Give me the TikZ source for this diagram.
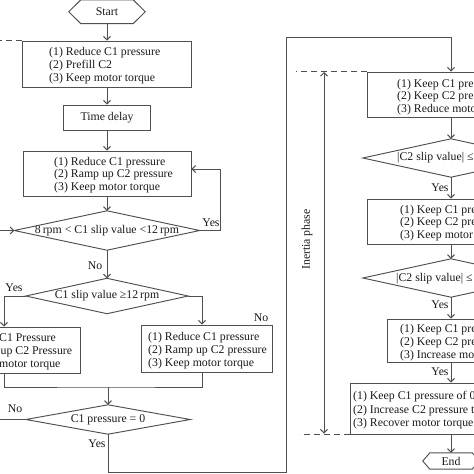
\documentclass[tikz,border=0pt]{standalone}
\usepackage{fontspec}
\setmainfont{Liberation Serif}
\usetikzlibrary{arrows.meta}
\definecolor{lc}{HTML}{505050}
\definecolor{tc}{HTML}{1A1A1A}
\newcommand{\fsz}{\fontsize{11.8}{12.8}\selectfont}
\newcommand{\fszb}{\fontsize{11.8}{13.5}\selectfont}
\tikzset{
  box/.style={draw=lc, line width=0.95pt, inner sep=0pt},
  hid/.style={inner sep=0pt, font=\fsz, text=tc},
  txt/.style={anchor=west, align=left, inner sep=0pt, font=\fsz, text=tc},
  lbl/.style={inner sep=0pt, font=\fsz, text=tc},
  ln/.style={draw=lc, line width=0.95pt},
  arr/.style={ln, -{Straight Barb[length=3.5pt,width=7pt]}},
  dsh/.style={draw=lc, line width=0.95pt, dash pattern=on 6pt off 4pt},
}
\begin{document}
\begin{tikzpicture}[x=1pt,y=-1pt]
\useasboundingbox (0,0) rectangle (474,474);
\clip (0,0) rectangle (474,474);

% ---------- left column ----------
\node[hid, minimum width=52pt, minimum height=23.5pt] (start) at (107,11.75) {Start};
\draw[ln] (start.north west) -- (start.north east) -- ([xshift=12pt]start.east) -- (start.south east) -- (start.south west) -- ([xshift=-12pt]start.west) -- cycle;

\node[box, minimum width=169pt, minimum height=46pt] (b1) at (107,64) {};
\node[txt] (b1t) at (49,65.5) {(1) Reduce C1 pressure\\(2) Prefill C2\\(3) Keep motor torque};

\node[box, minimum width=87pt, minimum height=25pt, font=\fsz, text=tc] (td) at (107,117.5) {Time delay};

\node[box, minimum width=168pt, minimum height=45pt] (b2) at (107,173.5) {};
\node[txt] (b2t) at (54,175) {(1) Reduce C1 pressure\\(2) Ramp up C2 pressure\\(3) Keep motor torque};

\node[hid, minimum width=185pt, minimum height=39pt] (d1) at (107,230.5) {8\,rpm < C1 slip value <12\,rpm};
\draw[ln] (d1.north) -- (d1.east) -- (d1.south) -- (d1.west) -- cycle;

\node[hid, minimum width=162pt, minimum height=35pt] (d2) at (107,296) {C1 slip value ≥12\,rpm};
\draw[ln] (d2.north) -- (d2.east) -- (d2.south) -- (d2.west) -- cycle;

\node[box, minimum width=152pt, minimum height=46pt] (bL) at (4,350) {};
\node[txt] (bLt) at (-1,352) {C1 Pressure\\\hspace*{1.5pt}up C2 Pressure\\motor torque};

\node[box, minimum width=131pt, minimum height=47pt] (bR) at (206.5,348.5) {};
\node[txt] (bRt) at (148,350.5) {(1) Reduce C1 pressure\\(2) Ramp up C2 pressure\\(3) Keep motor torque};

\coordinate (m) at (108,387);
\node[hid, minimum width=164pt, minimum height=29pt] (d3) at (108,419.5) {C1 pressure = 0};
\draw[ln] (d3.north) -- (d3.east) -- (d3.south) -- (d3.west) -- cycle;

% ---------- right column ----------
\node[box, minimum width=168pt, minimum height=45pt] (r1) at (451,94.5) {};
\node[txt] (r1t) at (397,97) {(1) Keep C1 pressure\\(2) Keep C2 pressure\\(3) Reduce motor torque};

\node[hid, minimum width=176pt, minimum height=38pt] (dr1) at (451,158) {};
\draw[ln] (dr1.north) -- (dr1.east) -- (dr1.south) -- (dr1.west) -- cycle;
\node[txt] (dr1t) at (397,158) {|C2 slip value| ≤};

\node[box, minimum width=168pt, minimum height=45pt] (r2) at (451,221.5) {};
\node[txt] (r2t) at (400,223) {(1) Keep C1 pressure\\(2) Keep C2 pressure\\(3) Keep motor torque};

\node[hid, minimum width=176pt, minimum height=38pt] (dr2) at (451,278) {};
\draw[ln] (dr2.north) -- (dr2.east) -- (dr2.south) -- (dr2.west) -- cycle;
\node[txt] (dr2t) at (396,278.5) {|C2 slip value| ≤};

\node[box, minimum width=128pt, minimum height=43pt] (r3) at (451,340.5) {};
\node[txt] (r3t) at (400,342.5) {(1) Keep C1 pressure\\(2) Keep C2 pressure\\(3) Increase motor torque};

\node[box, minimum width=202pt, minimum height=51pt] (r4) at (451,408.5) {};
\node[txt, font=\fszb] (r4t) at (353,410.5) {(1) Keep C1 pressure of 0\\(2) Increase C2 pressure to\\(3) Recover motor torque};

\node[hid, minimum width=42pt, minimum height=16pt] (endn) at (451,461) {End};
\draw[ln] (endn.north west) -- (endn.north east) -- ([xshift=7pt]endn.east) -- (endn.south east) -- (endn.south west) -- ([xshift=-7pt]endn.west) -- cycle;

\node[lbl, rotate=90] (ip) at (307,239.5) {Inertia phase};
\coordinate (ipt) at (324,72);
\coordinate (ipb) at (324,433.5);

% ---------- connectors ----------
\draw[arr] (start.south) -- (b1.north);
\draw[arr] (b1.south) -- (td.north);
\draw[arr] (td.south) -- (b2.north);
\draw[arr] (b2.south) -- (d1.north);
\draw[arr] (d1.east) -- ++(21,0) |- ([yshift=4.5pt]b2.east);
\node[lbl] at (211,223) {Yes};
\draw[arr] (d1.south) -- (d2.north);
\node[lbl] at (95,266) {No};
\draw[arr] (d2.west) -| (bL.north);
\node[lbl] at (14,288) {Yes};
\draw[arr] (d2.east) -| ([xshift=-4.5pt]bR.north);
\node[lbl] at (261,318) {No};
\draw[ln] (bL.south) |- (m) -| ([xshift=-4.5pt]bR.south);
\draw[arr] (m) -- (d3.north);
\draw[arr] (d3.west) -- ++(-40,0) |- (d1.west);
\node[lbl] at (15,409) {No};
\coordinate (yb) at (286,472.5);
\draw[arr] (d3.south) |- (yb) |- ([yshift=34pt]r1.north) -- (r1.north);
\node[lbl] at (97,444) {Yes};

\draw[dsh] (b1.north west) -- ++(-30,0);
\draw[dsh] (r1.north west) -- ++(-71,0);
\draw[dsh] (r4.south west) -- ++(-50,0);
\draw[ln, {Straight Barb[length=3.5pt,width=7pt]}-{Straight Barb[length=3.5pt,width=7pt]}] (ipt) -- (ipb);

\draw[arr] (r1.south) -- (dr1.north);
\draw[arr] (dr1.south) -- (r2.north);
\node[lbl] at (440,188) {Yes};
\draw[arr] (r2.south) -- (dr2.north);
\draw[arr] (dr2.south) -- (r3.north);
\node[lbl] at (440,305) {Yes};
\draw[arr] (r3.south) -- (r4.north);
\node[lbl] at (440,372) {Yes};
\draw[arr] (r4.south) -- (endn.north);
\end{tikzpicture}
\end{document}
